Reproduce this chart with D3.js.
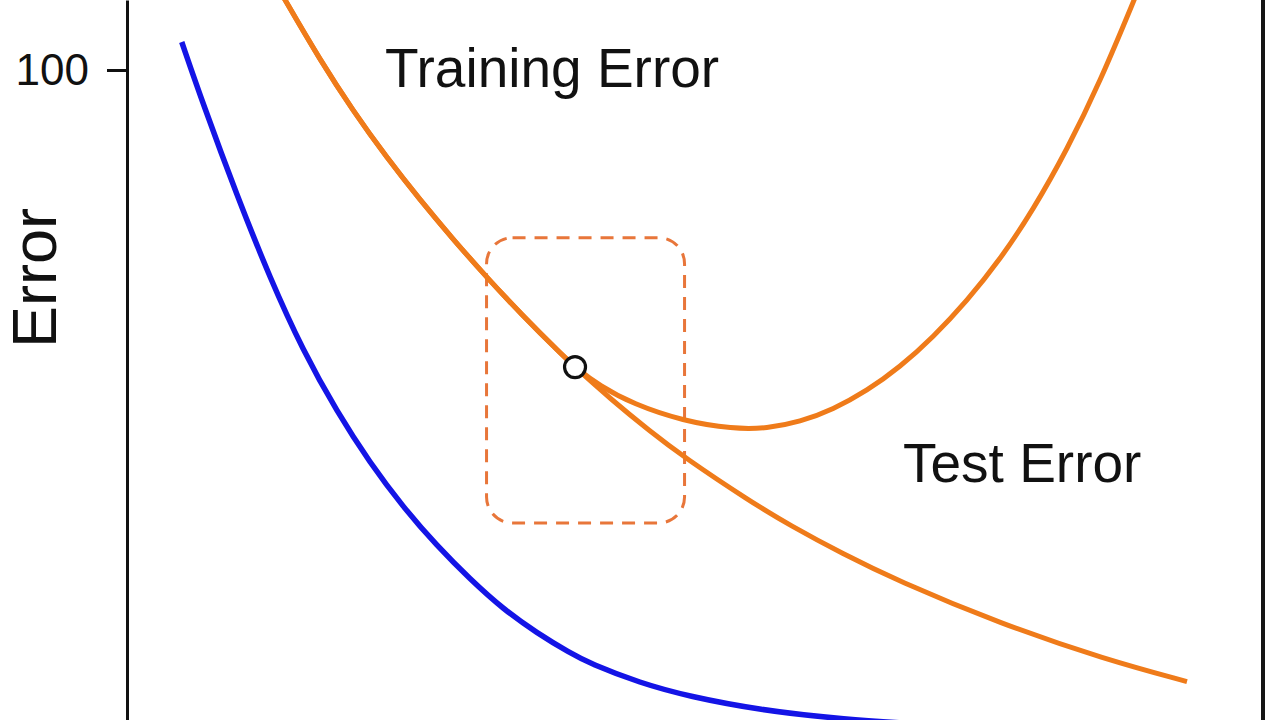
<!DOCTYPE html>
<html>
<head>
<meta charset="utf-8">
<script src="https://cdn.jsdelivr.net/npm/d3@7"></script>
<style>
  html, body { margin: 0; padding: 0; background: #fff; }
  svg { display: block; }
  text { font-family: "Liberation Sans", Arial, sans-serif; fill: #111; }
</style>
</head>
<body>
<svg id="chart" width="1280" height="720"></svg>
<script>
// ---- data (model complexity units vs error) ----
const blueX = [0.482, 0.669, 0.968, 1.259, 1.549, 1.849, 2.139, 2.430, 2.729, 3.019, 3.310, 3.609, 3.900, 4.076, 4.516, 4.947, 5.572, 6.259, 7.245];
const blueY = [104.31, 94.8, 80.68, 67.98, 56.82, 47.4, 39.54, 32.78, 26.77, 21.69, 17.08, 13.38, 10.31, 8.69, 5.69, 3.62, 1.54, 0.15, -0.92];

// shared descending part of the two orange curves (down to the marked point)
const sharedX = [1.259, 1.391, 1.699, 1.989, 2.289, 2.579, 2.870, 3.169, 3.460, 3.838, 3.944];
const sharedY = [114.81, 110.77, 101.55, 93.74, 86.46, 80.02, 73.97, 68.06, 62.63, 56.02, 54.29];

// decreasing orange branch after the marked point
const decX = [4.252, 4.604, 4.894, 5.484, 5.836, 6.303, 6.769, 7.694, 8.618, 9.331];
const decY = [49.46, 44.42, 40.55, 33.65, 29.95, 25.55, 21.55, 14.77, 9.28, 5.91];

// U-shaped orange branch after the marked point
const uX = [4.164, 4.454, 4.894, 5.335, 5.634, 5.924, 6.215, 6.514, 6.805, 7.095, 7.394, 7.685, 7.975, 8.275, 8.565, 8.873, 8.970];
const uY = [51.38, 48.62, 46.0, 44.77, 44.85, 45.86, 47.77, 50.65, 54.31, 58.88, 64.48, 70.82, 78.43, 87.74, 98.15, 111.08, 115.23];

const markPoint = [3.944, 54.29];
const boxX = [3.165, 4.908];   // dashed region, x extent
const boxY = [74.2, 30.3];     // dashed region, y extent

const yTicks = [100];
const labels = [
  { text: "Training Error", x: 2.271, y: 97.4 },
  { text: "Test Error", x: 6.831, y: 36.6 }
];
const yTitle = "Error";

// ---- scales ----
const W = 1280, H = 720;
const left = 127, right = 1263;
const x = d3.scaleLinear().domain([0, 10]).range([left, right]);
const y = d3.scaleLinear().domain([0, 720 / 6.5]).range([H, 0]);

const svg = d3.select("#chart");
svg.append("rect").attr("width", W).attr("height", H).attr("fill", "#fff");

const line = d3.line().x(d => x(d[0])).y(d => y(d[1])).curve(d3.curveBasis);
const zip = (a, b) => a.map((v, i) => [v, b[i]]);

const orange = "#EF7B1A";

// dashed box
svg.append("rect")
  .attr("x", x(boxX[0])).attr("y", y(boxY[0]))
  .attr("width", x(boxX[1]) - x(boxX[0]))
  .attr("height", y(boxY[1]) - y(boxY[0]))
  .attr("rx", 26).attr("ry", 26)
  .attr("fill", "none").attr("stroke", "#E8763A")
  .attr("stroke-width", 3).attr("stroke-dasharray", "13,9");

// blue curve
svg.append("path").attr("d", line(zip(blueX, blueY)))
  .attr("fill", "none").attr("stroke", "#1414E6").attr("stroke-width", 5.5);

// orange curves
const shared = zip(sharedX, sharedY);
svg.append("path").attr("d", line(shared.concat(zip(decX, decY))))
  .attr("fill", "none").attr("stroke", orange).attr("stroke-width", 5);
svg.append("path").attr("d", line(shared.concat(zip(uX, uY))))
  .attr("fill", "none").attr("stroke", orange).attr("stroke-width", 5);

// marked point
svg.append("circle").attr("cx", x(markPoint[0])).attr("cy", y(markPoint[1]))
  .attr("r", 10.5).attr("fill", "#fff").attr("stroke", "#111").attr("stroke-width", 3.2);

// left axis
const axis = svg.append("g").attr("transform", `translate(${left},0)`)
  .call(d3.axisLeft(y).tickValues(yTicks).tickSize(20).tickSizeOuter(0).tickPadding(18));
axis.select(".domain").attr("stroke", "#111").attr("stroke-width", 3);
axis.selectAll(".tick line").attr("stroke", "#111").attr("stroke-width", 3);
axis.selectAll(".tick text").attr("font-size", 44).attr("font-family", "Liberation Sans, Arial, sans-serif").attr("fill", "#111");

// right border
svg.append("line").attr("x1", right).attr("x2", right).attr("y1", 0).attr("y2", H)
  .attr("stroke", "#151515").attr("stroke-width", 4);

// labels
svg.selectAll(".lbl").data(labels).enter().append("text")
  .attr("class", "lbl").attr("x", d => x(d.x)).attr("y", d => y(d.y))
  .attr("font-size", 55).text(d => d.text);

// y title
svg.append("text").attr("transform", `translate(56,278) rotate(-90)`)
  .attr("text-anchor", "middle").attr("font-size", 63).text(yTitle);
</script>
</body>
</html>
